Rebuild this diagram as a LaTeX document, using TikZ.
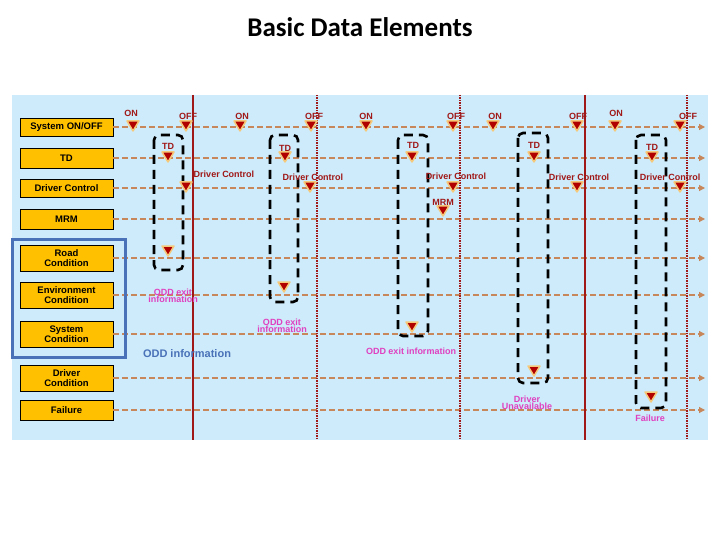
\documentclass[tikz,border=0pt]{standalone}
\usepackage{fontspec}
\setmainfont{Liberation Sans}
\newfontfamily\titlefont{Carlito}
\usetikzlibrary{arrows.meta}
\definecolor{bgblue}{HTML}{CDEBFA}
\definecolor{lbl}{HTML}{FFC000}
\definecolor{tan}{HTML}{C8875A}
\definecolor{dred}{HTML}{A01818}
\definecolor{mag}{HTML}{E040C0}
\definecolor{oddblue}{HTML}{4A72B8}
\definecolor{mk}{HTML}{B00000}
\definecolor{mkedge}{HTML}{F6C87A}
\begin{document}
\begin{tikzpicture}[x=1pt,y=-1pt,
  rowlbl/.style={draw=black,fill=lbl,minimum width=93pt,align=center,inner sep=1pt,font=\bfseries\fontsize{9.5}{10.5}\selectfont},
  track/.style={draw=tan,line width=1.2pt,dash pattern=on 6pt off 3pt,-{Triangle[length=6pt,width=6pt]}},
  tri/.style={fill=mk,draw=mkedge,line width=1.5pt,line join=round},
  ev/.style={text=dred,font=\bfseries\fontsize{9}{9}\selectfont,inner sep=0pt},
  odd/.style={text=mag,font=\bfseries\fontsize{9}{7.5}\selectfont,inner sep=0pt,align=center},
  grp/.style={draw=black,line width=2.6pt,dash pattern=on 9pt off 6pt,rounded corners=5pt}]
\useasboundingbox (0,0) rectangle (720,540);
\fill[bgblue] (12,95) rectangle (708,440);
\node[font=\titlefont\bfseries\fontsize{27}{29}\selectfont] (title) at (360,27) {Basic Data Elements};
% row labels
\foreach \n/\y/\t/\h in {s/127/System ON\slash OFF/18, td/158/TD/20, dc/188/Driver Control/18, mrm/219/MRM/20,
  rc/258/Road\\Condition/26, ec/295/Environment\\Condition/26, sc/334/System\\Condition/26, drc/378/Driver\\Condition/26, f/410/Failure/20}{
  \node[rowlbl,minimum height=\h pt] (\n) at (66.5,\y) {\t};
  \coordinate (\n e) at (705,\y);
  \draw[track] (\n.east) -- (\n e);
}
% vertical lines
\foreach \x in {193,585} \draw[dred,line width=2.2pt] (\x,95) -- (\x,440);
\foreach \x in {317,460,687} \draw[dred,line width=2pt,dash pattern=on 1.5pt off 1pt] (\x,95) -- (\x,440);
% blue ODD box
\node[draw=oddblue,line width=3pt,minimum width=113pt,minimum height=118pt] (oddbox) at (68.5,298) {};
% dashed groups
\draw[grp] (154,135) rectangle (183,270);
\draw[grp] (270,135) rectangle (298,302);
\draw[grp] (398,135) rectangle (428,336);
\draw[grp] (518,133) rectangle (548,383);
\draw[grp] (636,135) rectangle (666,408);
% markers
\newcommand\mkr[2]{\draw[tri] (#1-6,#2-6) -- (#1+6,#2-6) -- (#1,#2+4) -- cycle;}
\foreach \x in {133,186,240,311,366,453,493,577,615,680} {\mkr{\x}{127}}
\foreach \x in {168,285,412,534,652} {\mkr{\x}{158}}
\foreach \x in {186,310,453,577,680} {\mkr{\x}{188}}
\mkr{443}{212}
\mkr{168}{252}
\mkr{284}{288}
\mkr{412}{328}
\mkr{534}{372}
\mkr{651}{398}
% event labels
\foreach \x/\y/\t in {131/113/ON,188/116/OFF,242/116/ON,314/116/OFF,366/116/ON,456/116/OFF,495/116/ON,578/116/OFF,616/113/ON,688/116/OFF,
  168/146/TD,285/148/TD,413/145/TD,534/145/TD,652/147/TD,
  224/174/Driver Control,313/177/Driver Control,456/176/Driver Control,579/177/Driver Control,670/177/Driver Control,443/202/MRM}
  {\node[ev] at (\x,\y) {\t};}
\node[odd] (o1) at (173,296) {ODD exit\\information};
\node[odd] (o2) at (282,326) {ODD exit\\information};
\node[odd] (o3) at (411,351) {ODD exit information};
\node[odd] (o4) at (527,403) {Driver\\Unavailable};
\node[odd] (o5) at (650,418) {Failure};
\node[text=oddblue,font=\bfseries\fontsize{11}{12}\selectfont,inner sep=0pt] (oi) at (187,354) {ODD information};
\end{tikzpicture}
\end{document}
